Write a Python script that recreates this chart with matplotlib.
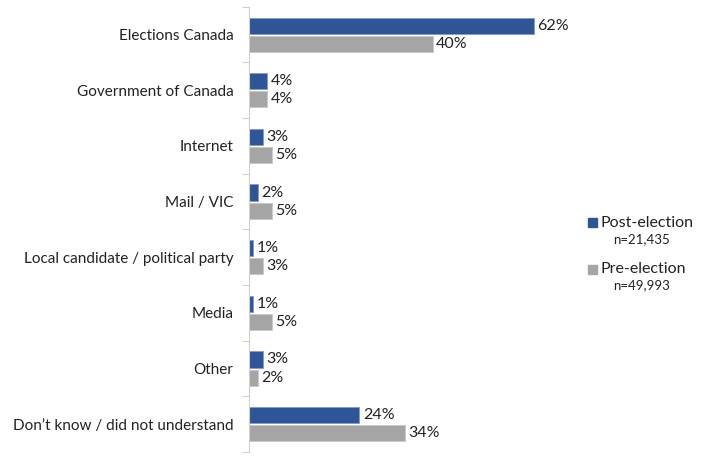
import numpy as np
import matplotlib.pyplot as plt
from matplotlib.patches import Rectangle

plt.rcParams['font.family'] = ['Lato', 'DejaVu Sans']

categories = ['Elections Canada', 'Government of Canada', 'Internet', 'Mail / VIC',
              'Local candidate / political party', 'Media', 'Other',
              'Don\u2019t know / did not understand']
post = [62, 4, 3, 2, 1, 1, 3, 24]
pre = [40, 4, 5, 5, 3, 5, 2, 34]
series = ['Post-election', 'Pre-election']
sample_sizes = ['n=21,435', 'n=49,993']
colors = ['#2F5597', '#A5A5A5']

fig = plt.figure(figsize=(7.13, 4.57), dpi=100)
ax = fig.add_axes([0.349, 0.011, 0.451, 0.974])

y = np.arange(len(categories))
h = 0.29
gap = 0.018
b1 = ax.barh(y - h / 2 - gap, post, height=h, color=colors[0], edgecolor='#7F9BCB', linewidth=0.6)
b2 = ax.barh(y + h / 2 + gap, pre, height=h, color=colors[1], edgecolor='#C8C8C8', linewidth=0.6)

for bars, vals in ((b1, post), (b2, pre)):
    for bar, v in zip(bars, vals):
        ax.text(v + 0.8, bar.get_y() + bar.get_height() / 2, f'{v}%',
                va='center', ha='left', fontsize=11.5, color='#222222')

ax.set_xlim(0, 70)
ax.set_ylim(len(categories) - 0.5, -0.5)
ax.set_xticks([])
ax.set_yticks(y)
ax.set_yticklabels(categories, fontsize=11, color='#222222')
ax.tick_params(axis='y', length=0, pad=11)
ax.set_yticks(np.arange(-0.5, len(categories)), minor=True)
ax.tick_params(axis='y', which='minor', length=5, color='#D0D0D0', width=0.8)
for s in ('top', 'right', 'bottom'):
    ax.spines[s].set_visible(False)
ax.spines['left'].set_color('#D0D0D0')
ax.spines['left'].set_linewidth(0.8)

# legend
leg_y = [223, 269]
for name, n, c, yy in zip(series, sample_sizes, colors, leg_y):
    fy = 1 - yy / 457
    fig.patches.append(Rectangle((588 / 713, fy - 4.5 / 457), 9 / 713, 9 / 457,
                                 transform=fig.transFigure, color=c))
    fig.text(601 / 713, fy, name, fontsize=11.5, va='center', ha='left', color='#222222')
    fig.text(642 / 713, fy - 16 / 457, n, fontsize=9.5, va='center', ha='center', color='#222222')

fig.savefig('out.png', dpi=100)
